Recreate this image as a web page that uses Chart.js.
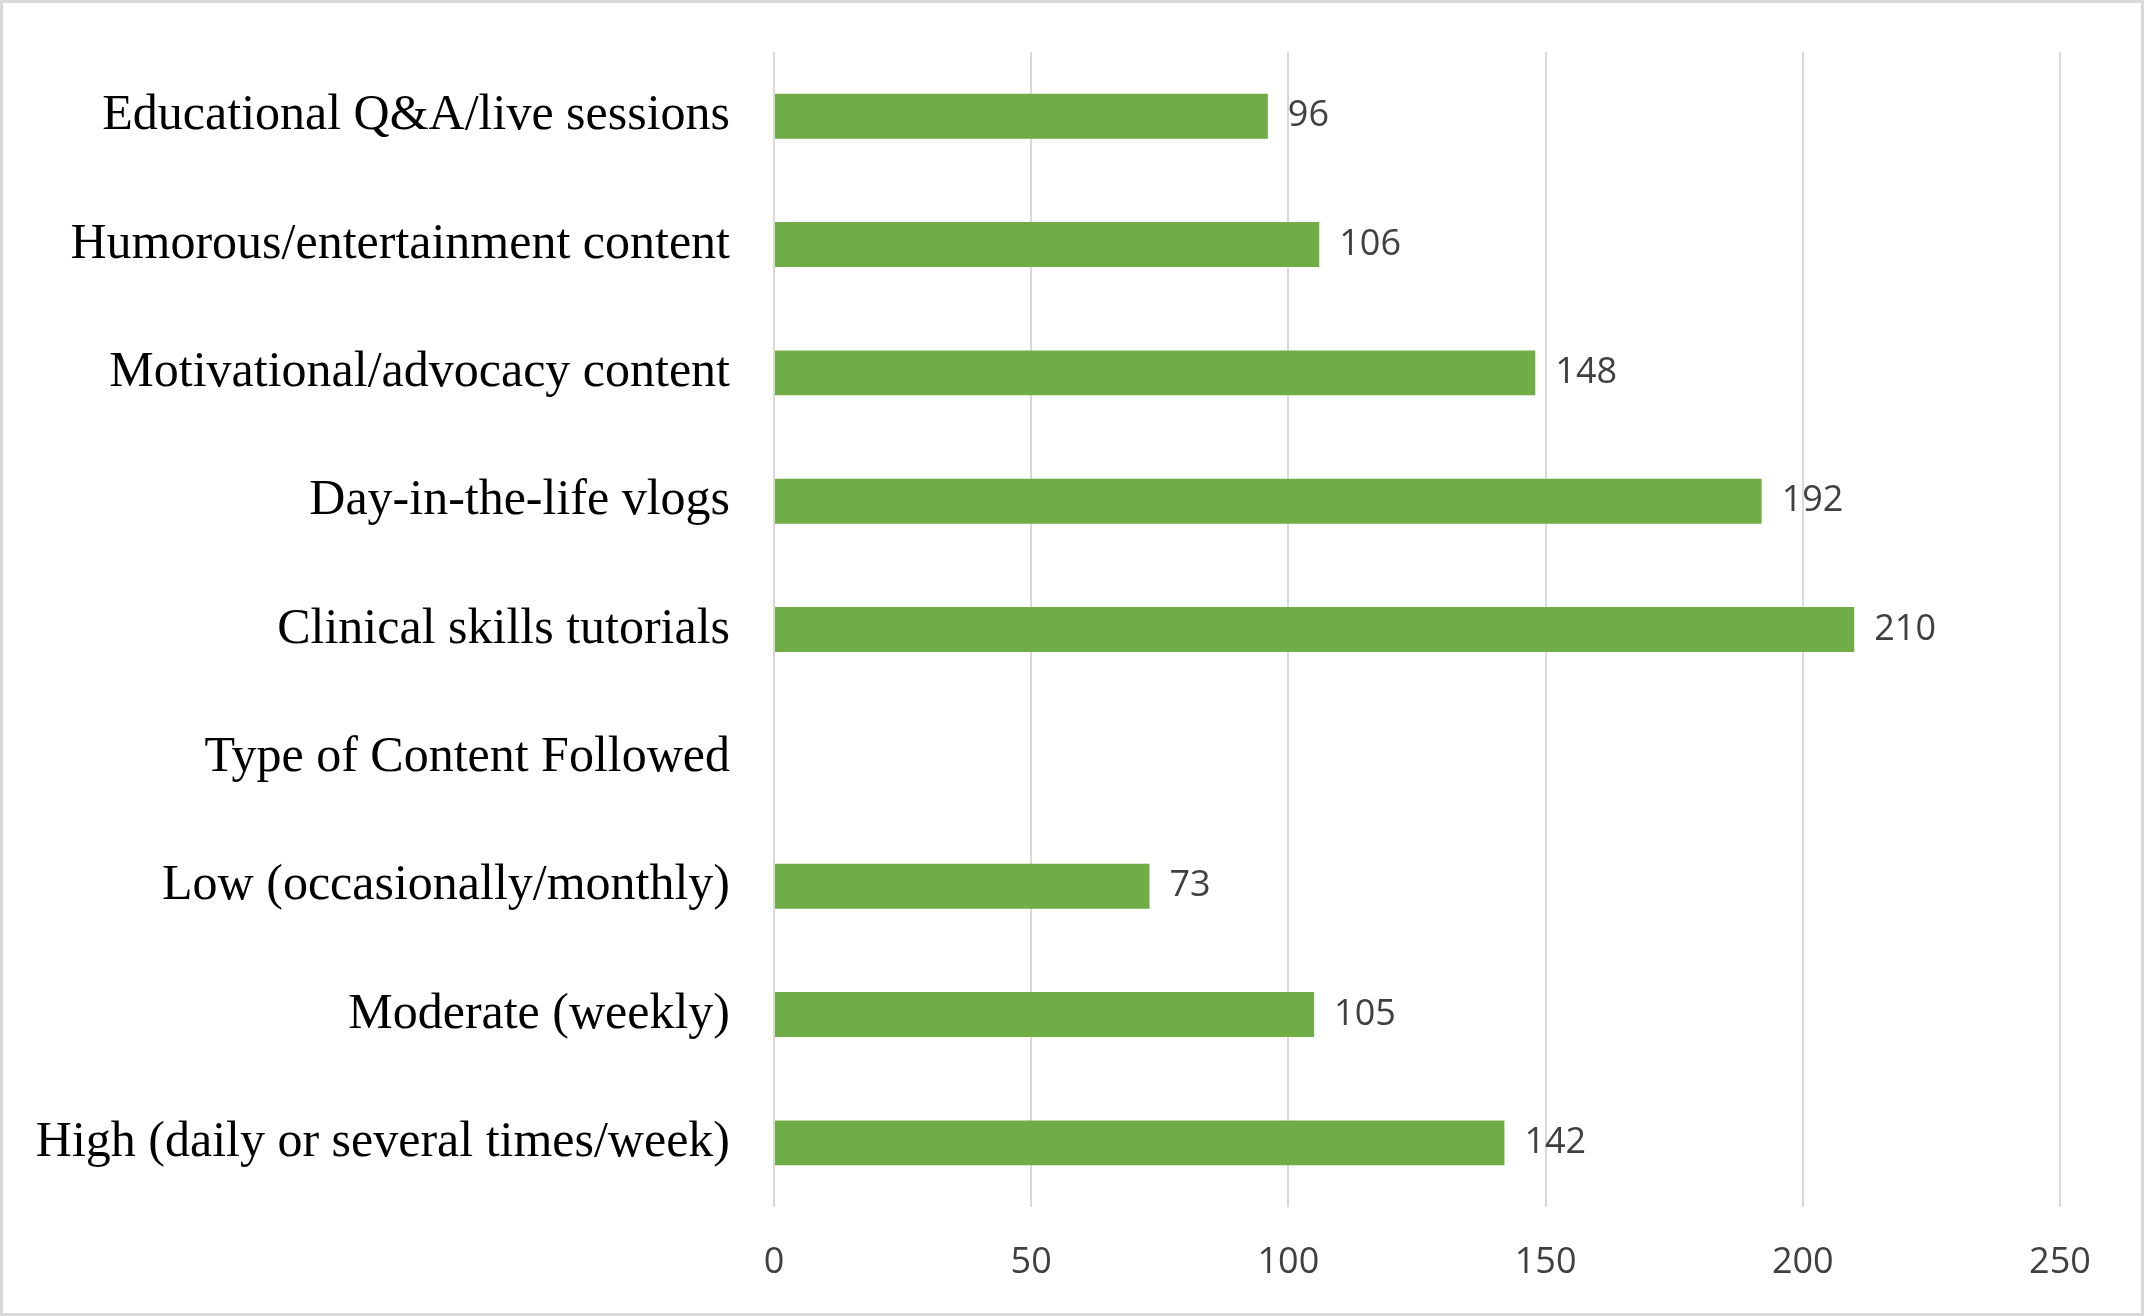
<!DOCTYPE html>
<html>
<head>
<meta charset="utf-8">
<script src="https://cdn.jsdelivr.net/npm/chart.js@4"></script>
<style>
  html, body { margin: 0; padding: 0; background: #fff; }
  #frame {
    width: 2144px;
    height: 1316px;
    box-sizing: border-box;
    border: 3px solid #d9d9d9;
    position: relative;
    overflow: hidden;
  }
  #chart { position: absolute; left: -3px; top: -3px; }
</style>
</head>
<body>
<div id="frame"><canvas id="chart" width="2144" height="1316"></canvas></div>
<script>
// categories, top to bottom as shown
const categories = [
  "Educational Q&A/live sessions",
  "Humorous/entertainment content",
  "Motivational/advocacy content",
  "Day-in-the-life vlogs",
  "Clinical skills tutorials",
  "Type of Content Followed",
  "Low (occasionally/monthly)",
  "Moderate (weekly)",
  "High (daily or several times/week)"
];
const counts = [96, 106, 148, 192, 210, null, 73, 105, 142];
const xTicks = [0, 50, 100, 150, 200, 250];

const barColor = "#70ad47";
const gridColor = "#d9d9d9";
const textGrey = "#404040";

// value labels just right of each bar
const valueLabels = {
  id: "valueLabels",
  afterDatasetsDraw(chart) {
    const ctx = chart.ctx;
    const meta = chart.getDatasetMeta(0);
    ctx.save();
    ctx.font = "36px 'Open Sans'";
    ctx.fillStyle = textGrey;
    ctx.textAlign = "left";
    ctx.textBaseline = "middle";
    meta.data.forEach((bar, i) => {
      const v = counts[i];
      if (v === null || v === undefined) return;
      ctx.fillText(String(v), bar.x + 20, bar.y);
    });
    ctx.restore();
  }
};

const ctx = document.getElementById("chart").getContext("2d");
new Chart(ctx, {
  type: "bar",
  data: {
    labels: categories,
    datasets: [{
      data: counts,
      backgroundColor: barColor,
      borderWidth: 0,
      barPercentage: 0.35,
      categoryPercentage: 1
    }]
  },
  options: {
    indexAxis: "y",
    responsive: false,
    devicePixelRatio: 1,
    animation: false,
    layout: { padding: { top: 52, right: 84, left: 0, bottom: 0 } },
    plugins: {
      legend: { display: false },
      tooltip: { enabled: false }
    },
    scales: {
      x: {
        min: 0,
        max: 250,
        afterBuildTicks: (scale) => {
          scale.ticks = xTicks.map((v) => ({ value: v }));
        },
        grid: { color: gridColor, lineWidth: 2, drawTicks: false },
        border: { display: false },
        ticks: {
          color: textGrey,
          font: { family: "'Open Sans'", size: 36 },
          padding: 34
        },
        afterFit: (scale) => { scale.height = 1316 - 1207; }
      },
      y: {
        grid: { display: false, drawTicks: false },
        border: { display: false },
        ticks: {
          color: "#000",
          font: { family: "'Liberation Serif'", size: 50 },
          padding: 44
        },
        afterFit: (scale) => {
          scale.width = 774;
          scale.paddingTop = 0;
          scale.paddingBottom = 0;
        }
      }
    }
  },
  plugins: [valueLabels]
});
</script>
</body>
</html>
